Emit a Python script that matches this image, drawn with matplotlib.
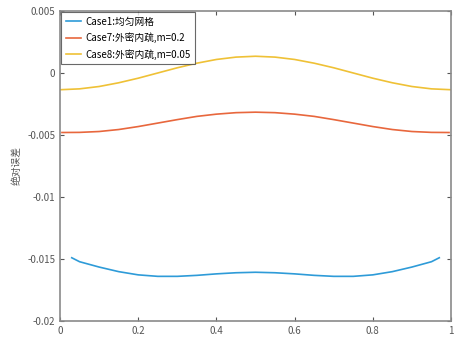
import matplotlib
matplotlib.use("Agg")
import matplotlib.pyplot as plt

plt.rcParams['font.family'] = ['Noto Sans CJK SC', 'DejaVu Sans']

# Case1: uniform grid
x1 = [0.03, 0.05, 0.10, 0.15, 0.20, 0.25, 0.30, 0.35, 0.40, 0.45, 0.50,
      0.55, 0.60, 0.65, 0.70, 0.75, 0.80, 0.85, 0.90, 0.95, 0.97]
y1 = [-0.01490, -0.01522, -0.01565, -0.01602, -0.01628, -0.01640, -0.01640,
      -0.01632, -0.01620, -0.01611, -0.01607, -0.01611, -0.01620, -0.01632,
      -0.01640, -0.01640, -0.01628, -0.01602, -0.01565, -0.01522, -0.01490]

# Case7: m=0.2
x7 = [0.005, 0.05, 0.10, 0.15, 0.20, 0.25, 0.30, 0.35, 0.40, 0.45, 0.50,
      0.55, 0.60, 0.65, 0.70, 0.75, 0.80, 0.85, 0.90, 0.95, 0.995]
y7 = [-0.00480, -0.00479, -0.00472, -0.00456, -0.00432, -0.00404, -0.00376,
      -0.00350, -0.00332, -0.00320, -0.00316, -0.00320, -0.00332, -0.00350,
      -0.00376, -0.00404, -0.00432, -0.00456, -0.00472, -0.00479, -0.00480]

# Case8: m=0.05
x8 = [0.0, 0.05, 0.10, 0.15, 0.20, 0.25, 0.30, 0.35, 0.40, 0.45, 0.50,
      0.55, 0.60, 0.65, 0.70, 0.75, 0.80, 0.85, 0.90, 0.95, 1.0]
y8 = [-0.00135, -0.00128, -0.00109, -0.00079, -0.00042, 0.0, 0.00042,
      0.00079, 0.00109, 0.00128, 0.00135, 0.00128, 0.00109, 0.00079,
      0.00042, 0.0, -0.00042, -0.00079, -0.00109, -0.00128, -0.00135]

labels = ["Case1:均匀网格", "Case7:外密内疏,m=0.2", "Case8:外密内疏,m=0.05"]
colors = ["#2e9bd8", "#e8673d", "#efc136"]

xticks = [0, 0.2, 0.4, 0.6, 0.8, 1]
xticklabels = ["0", "0.2", "0.4", "0.6", "0.8", "1"]
yticks = [0.005, 0, -0.005, -0.01, -0.015, -0.02]
yticklabels = ["0.005", "0", "-0.005", "-0.01", "-0.015", "-0.02"]

fig = plt.figure(figsize=(4.74, 3.51), dpi=100)
ax = fig.add_axes([0.1266, 0.0855, 0.8249, 0.8832])

for xs, ys, lab, c in zip([x1, x7, x8], [y1, y7, y8], labels, colors):
    ax.plot(xs, ys, color=c, lw=1.2, label=lab)

ax.set_xlim(0, 1)
ax.set_ylim(-0.02, 0.005)
ax.set_xticks(xticks)
ax.set_xticklabels(xticklabels)
ax.set_yticks(yticks)
ax.set_yticklabels(yticklabels)
ax.tick_params(direction='in', top=True, right=True, labelsize=7,
               colors='#555555', length=3, width=0.8)
for s in ax.spines.values():
    s.set_color('#8a8a8a')
    s.set_linewidth(1.2)
ax.set_ylabel("绝对误差", fontsize=7, color='#555555')

leg = ax.legend(loc='upper left', fontsize=7, frameon=True, fancybox=False,
                borderaxespad=0.15, handlelength=1.6, handletextpad=0.4,
                labelspacing=0.6, borderpad=0.45)
leg.get_frame().set_edgecolor('#444444')
leg.get_frame().set_linewidth(0.8)

fig.savefig("out.png", dpi=100)
